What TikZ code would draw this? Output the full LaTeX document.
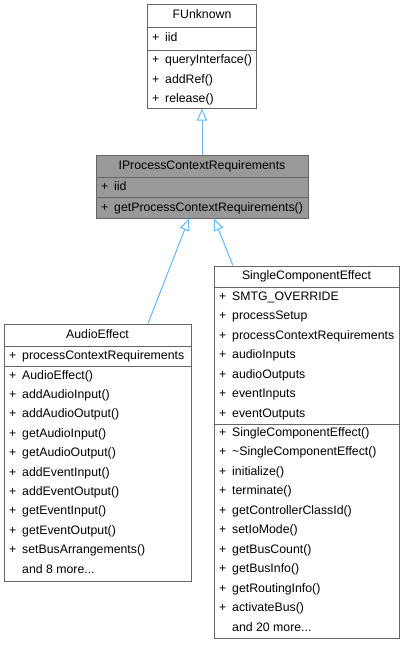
\documentclass[tikz,border=0pt]{standalone}
\usepackage{fontspec}
\setmainfont{Liberation Sans}
\usetikzlibrary{arrows.meta}
\definecolor{edgeblue}{HTML}{63B8FF}
\definecolor{boxgray}{HTML}{666666}
\definecolor{hilite}{HTML}{999999}
\tikzset{
  cls/.style={draw=boxgray, line width=1pt, fill=white, inner sep=0pt},
  sep/.style={draw=boxgray, line width=1pt},
  member/.style={anchor=west, inner sep=0pt, text height=9pt, text depth=3pt, font=\fontsize{12.3}{14}\selectfont},
  title/.style={inner sep=0pt, text height=9pt, text depth=3pt, font=\fontsize{12.3}{14}\selectfont},
  inh/.style={draw=edgeblue, line width=1pt, -{Triangle[open,length=12pt,width=10pt,fill=white]}}
}

\begin{document}
\begin{tikzpicture}[x=1pt,y=-1pt]
\useasboundingbox[fill=white] (0,0) rectangle (405,645);

% FUnknown
\node[cls, minimum width=109pt, minimum height=104pt] (funk) at (202,56) {};
\draw[sep] (147.5,27) -- (256.5,27);
\draw[sep] (147.5,50) -- (256.5,50);
\node[title] (funk-t) at (202,16) {FUnknown};
\foreach \y/\m [count=\i] in {38/iid,60/queryInterface(),80/addRef(),99/release()}
  {\node[member] (funk-p\i) at (152,\y) {+};
   \node[member] (funk-m\i) at (165,\y) {\m};}

% IProcessContextRequirements
\node[cls, fill=hilite, minimum width=212pt, minimum height=63pt] (ipcr) at (202,186.5) {};
\draw[sep] (96,177) -- (308,177);
\draw[sep] (96,197) -- (308,197);
\node[title] (ipcr-t) at (202,166) {IProcessContextRequirements};
\node[member] (ipcr-p1) at (101,187) {+};
\node[member] (ipcr-m1) at (114,187) {iid};
\node[member] (ipcr-p2) at (101,208) {+};
\node[member] (ipcr-m2) at (114,208) {getProcessContextRequirements()};

% AudioEffect
\node[cls, minimum width=187pt, minimum height=257pt] (aud) at (97.5,452.5) {};
\draw[sep] (4,346) -- (191,346);
\draw[sep] (4,366) -- (191,366);
\node[title] (aud-t) at (97.5,335) {AudioEffect};
\node[member] (aud-pa) at (9,356) {+};
\node[member] (aud-a) at (22,356) {processContextRequirements};
\foreach \m [count=\i from 0] in {AudioEffect(),addAudioInput(),addAudioOutput(),getAudioInput(),getAudioOutput(),addEventInput(),addEventOutput(),getEventInput(),getEventOutput(),setBusArrangements()}
  {\node[member] (aud-p\i) at (9,{376+19.4*\i}) {+};
   \node[member] (aud-m\i) at (22,{376+19.4*\i}) {\m};}
\node[member] (aud-more) at (22,570) {and 8 more...};

% SingleComponentEffect
\node[cls, minimum width=185pt, minimum height=372pt] (sce) at (306.5,452) {};
\draw[sep] (214,287) -- (399,287);
\draw[sep] (214,424) -- (399,424);
\node[title] (sce-t) at (306.5,276) {SingleComponentEffect};
\foreach \m [count=\i from 0] in {SMTG\_OVERRIDE,processSetup,processContextRequirements,audioInputs,audioOutputs,eventInputs,eventOutputs}
  {\node[member] (sce-pa\i) at (219,{297+19.5*\i}) {+};
   \node[member] (sce-a\i) at (232,{297+19.5*\i}) {\m};}
\foreach \m [count=\i from 0] in {SingleComponentEffect(),\textasciitilde SingleComponentEffect(),initialize(),terminate(),getControllerClassId(),setIoMode(),getBusCount(),getBusInfo(),getRoutingInfo(),activateBus()}
  {\node[member] (sce-p\i) at (219,{433+19.5*\i}) {+};
   \node[member] (sce-m\i) at (232,{433+19.5*\i}) {\m};}
\node[member] (sce-more) at (232,628) {and 20 more...};

% inheritance
\draw[inh] (ipcr.north) -- (funk.south);
\draw[inh] ([xshift=50.5pt]aud.north) -- ([xshift=-13pt]ipcr.south);
\draw[inh] ([xshift=-73.5pt]sce.north) -- ([xshift=12pt]ipcr.south);
\end{tikzpicture}
\end{document}
